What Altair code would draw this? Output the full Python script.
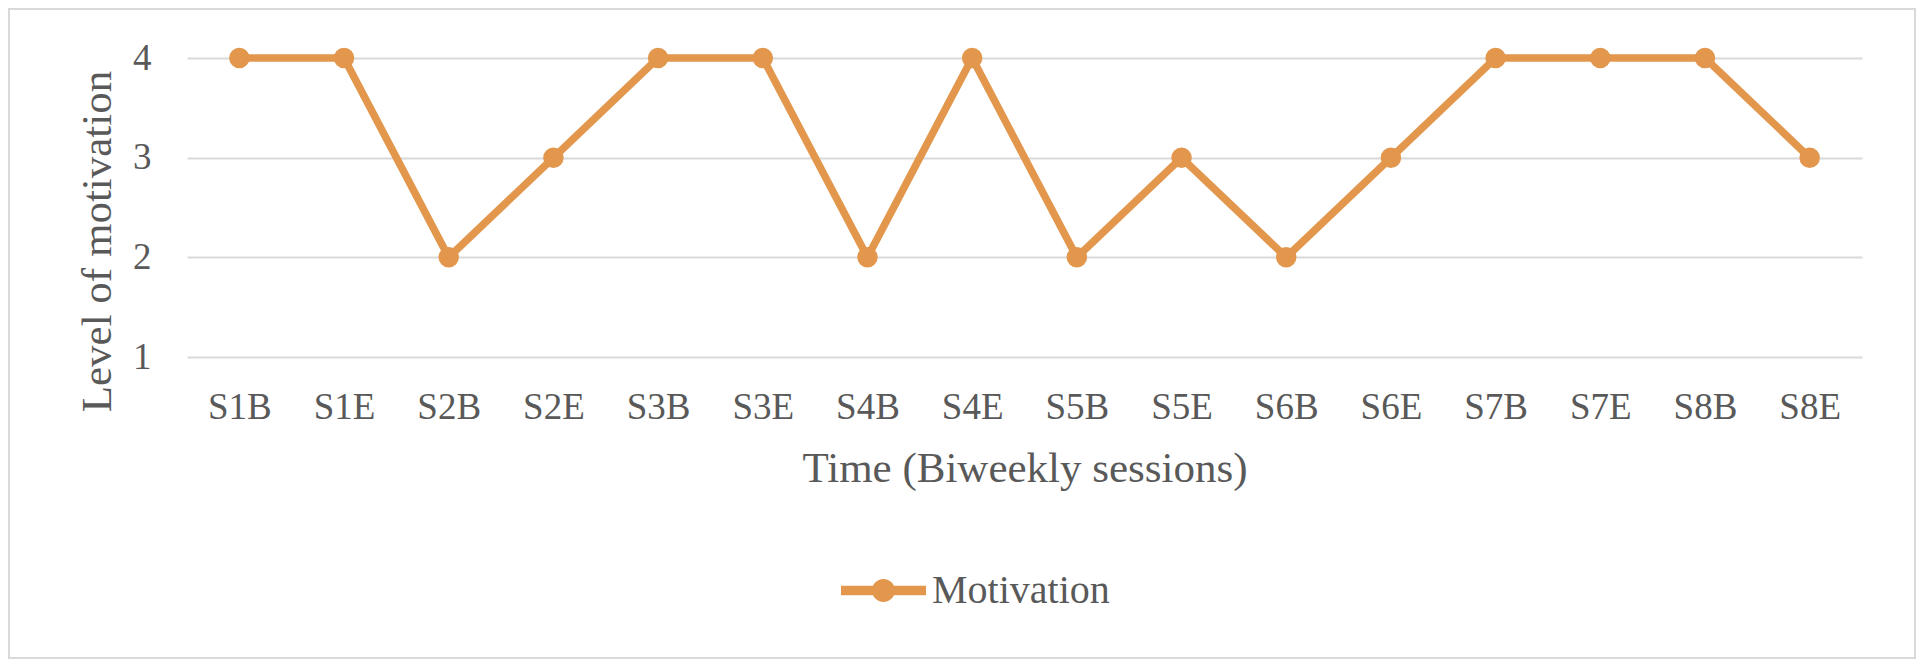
import altair as alt
import pandas as pd

# values
sessions = ["S1B", "S1E", "S2B", "S2E", "S3B", "S3E", "S4B", "S4E",
            "S5B", "S5E", "S6B", "S6E", "S7B", "S7E", "S8B", "S8E"]
motivation = [4, 4, 2, 3, 4, 4, 2, 4, 2, 3, 2, 3, 4, 4, 4, 3]
y_ticks = [1, 2, 3, 4]
series_name = "Motivation"

ORANGE = "#E2974D"
TEXT = "#595959"
GRID = "#D9D9D9"
FONT = "Liberation Serif"

df = pd.DataFrame({"session": sessions, "value": motivation, "series": series_name})

# line segment + dot legend glyph
legend_path = ("M-1,-0.11 L1,-0.11 L1,0.11 L-1,0.11 Z "
               "M0.27,0 A0.27,0.27 0 1,1 -0.27,0 A0.27,0.27 0 1,1 0.27,0 Z")

x_enc = alt.X(
    "session:N", sort=sessions, title="Time (Biweekly sessions)",
    scale=alt.Scale(type="point", padding=0.5),
    axis=alt.Axis(labelAngle=0, domain=False, ticks=False, tickSize=0, grid=False,
                  labelPadding=32, labelFontSize=37, titleFontSize=43,
                  titleY=124, titleBaseline="alphabetic"),
)
y_enc = alt.Y(
    "value:Q", title="Level of motivation",
    scale=alt.Scale(domain=[1, 4], nice=False, zero=False),
    axis=alt.Axis(values=y_ticks, format="d", domain=False, ticks=False, tickSize=0,
                  grid=True, gridColor=GRID, gridWidth=2,
                  labelPadding=36, labelFontSize=37, titleFontSize=43,
                  titleX=-77, titleY=183, titleBaseline="alphabetic", titleAlign="center"),
)
color_enc = alt.Color(
    "series:N",
    scale=alt.Scale(range=[ORANGE]),
    legend=alt.Legend(
        title=None, orient="none", legendX=654, legendY=490, padding=0,
        symbolType=legend_path, symbolSize=7225, labelOffset=6, labelLimit=500,
        symbolFillColor=ORANGE, symbolStrokeColor=ORANGE, symbolStrokeWidth=0,
        symbolOpacity=1,
        labelFontSize=40, labelColor=TEXT, labelFont=FONT,
    ),
)

border = alt.Chart(alt.Data(values=[{}])).mark_rect(
    fill="transparent", stroke=GRID, strokeWidth=2
).encode(
    x=alt.value(-178), x2=alt.value(1728), y=alt.value(-49), y2=alt.value(600)
)

base = alt.Chart(df).encode(x=x_enc, y=y_enc)
line = base.mark_line(color=ORANGE, strokeWidth=7.5, strokeJoin="round")
points = base.mark_circle(size=420, opacity=1).encode(color=color_enc)

chart = alt.layer(border, line, points).properties(
    width=1675,
    height=299,
    autosize=alt.AutoSizeParams(type="none"),
    padding={"left": 179, "top": 50, "right": 55, "bottom": 303},
).configure_view(
    strokeWidth=0
).configure_axis(
    labelFont=FONT, titleFont=FONT, labelColor=TEXT, titleColor=TEXT,
    titleFontWeight="normal"
)

chart.save("out.html", embed_options={"renderer": "svg", "actions": False})
